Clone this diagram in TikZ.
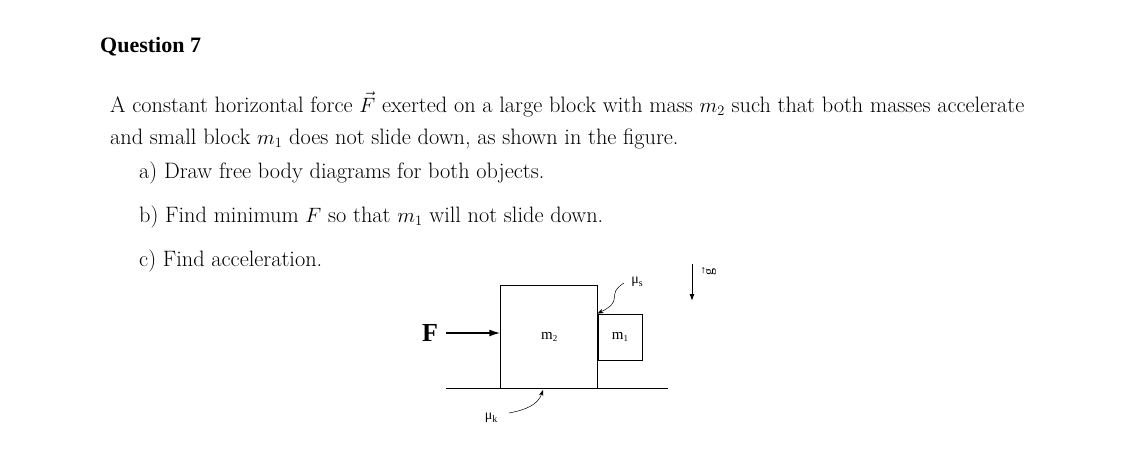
\documentclass[tikz,border=0pt]{standalone}
\usepackage{fontspec}
\newfontfamily\tms{Liberation Serif}
\usetikzlibrary{arrows.meta}
\begin{document}
\begin{tikzpicture}[x=1pt,y=-1pt,
  txt/.style={anchor=base west,inner sep=0,font=\fontsize{22.3}{26}\selectfont},
  fig/.style={font=\tms\fontsize{15}{18}\selectfont,inner sep=0},
  sm/.style={font=\tms\fontsize{14}{16}\selectfont,inner sep=0},
  blk/.style={draw,line width=0.9pt}]
\useasboundingbox (0,0) rectangle (1142,471);
\node[anchor=base west,inner sep=0,font=\tms\bfseries\fontsize{22}{26}\selectfont] (q) at (100,52) {Question 7};
\node[txt] (l1) at (110,112) {A constant horizontal force $\vec F$ exerted on a large block with mass $m_2$ such that both masses accelerate};
\node[txt] (l2) at (110,144) {and small block $m_1$ does not slide down, as shown in the figure.};
\node[txt] (la) at (139,178) {a) Draw free body diagrams for both objects.};
\node[txt] (lb) at (139,222) {b) Find minimum $F$ so that $m_1$ will not slide down.};
\node[txt] (lc) at (139,266) {c) Find acceleration.};
% figure
\draw[line width=0.9pt] (446,388) coordinate (g1) -- (668,388) coordinate (g2);
\node[blk,minimum width=97,minimum height=103,inner sep=0] (m2) at (549.2,337) {};
\node[fig] at (m2) {m\raisebox{-0.35ex}{\fontsize{9}{10}\selectfont 2}};
\node[blk,minimum width=44,minimum height=46,inner sep=0] (m1) at (620,337) {};
\node[fig] at (m1) {m\raisebox{-0.35ex}{\fontsize{9}{10}\selectfont 1}};
\node[font=\tms\bfseries\fontsize{26}{30}\selectfont,inner sep=0] (F) at (430,333) {F};
\coordinate (Fs) at (446,333);
\draw[-{Latex[length=11pt,width=7pt]},line width=1.5pt] (Fs) -- (m2.west |- Fs);
\node[sm] (ms) at (637,282) {μ\raisebox{-0.4ex}{\fontsize{10}{11}\selectfont s}};
\draw[-{Stealth[length=6pt]},line width=0.5pt] (624,283) .. controls (605,295) and (625,300) .. (m1.north west);
\node[sm] (mk) at (491,418) {μ\raisebox{-0.4ex}{\fontsize{10}{11}\selectfont k}};
\draw[-{Stealth[length=6pt]},line width=0.5pt] (509,413) .. controls (525,410) and (538,405) .. (543,390);
\coordinate (ga) at (692,264);
\draw[-{Latex[length=7pt,width=5pt]},line width=1pt] (ga) -- (692,301);
\node[sm,rotate=90] (gl) at (709,272) {$\vec{\hbox{\tms g}}$};
\end{tikzpicture}
\end{document}
